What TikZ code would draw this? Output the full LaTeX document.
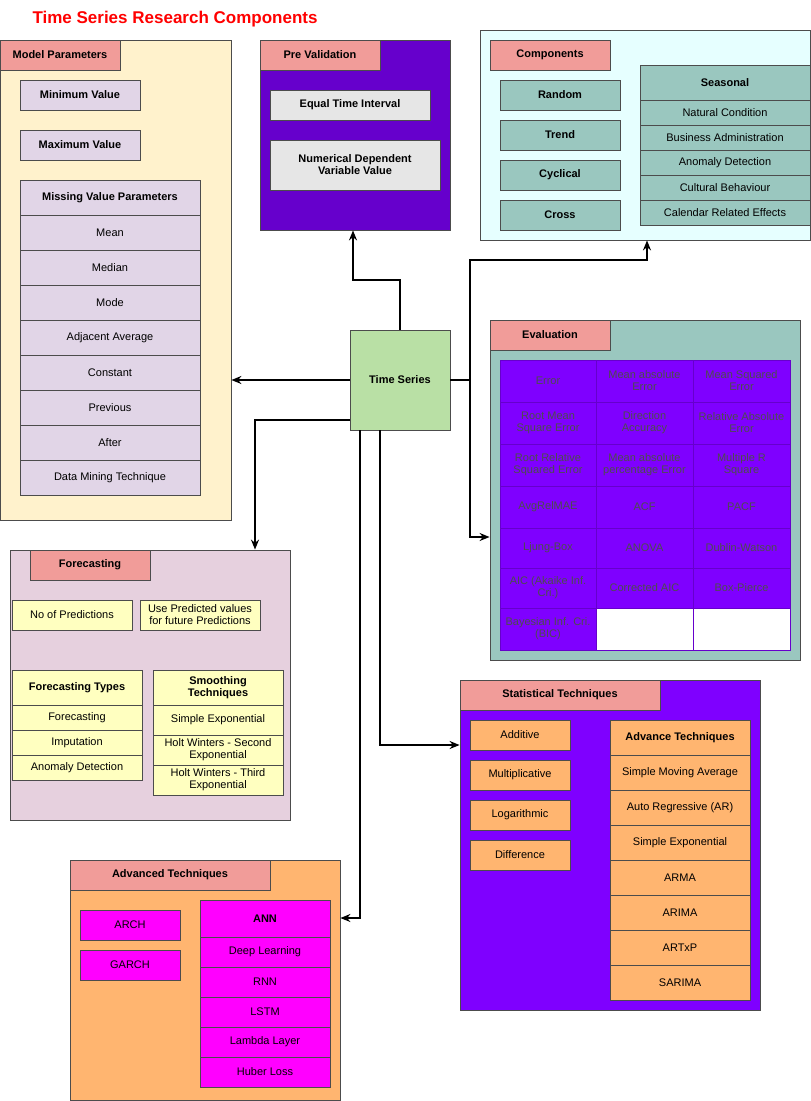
\documentclass[tikz,border=0pt]{standalone}
\usepackage{fontspec}
\setmainfont{Liberation Sans}
\usetikzlibrary{arrows.meta}
\definecolor{salmon}{HTML}{F19C99}
\definecolor{ylw}{HTML}{FFF2CC}
\definecolor{lil}{HTML}{E1D5E7}
\definecolor{pur}{HTML}{6600CC}
\definecolor{vio}{HTML}{7F00FF}
\definecolor{gry}{HTML}{E6E6E6}
\definecolor{cyn}{HTML}{E6FFFF}
\definecolor{teal2}{HTML}{9AC7BF}
\definecolor{grn}{HTML}{B9E0A5}
\definecolor{pink2}{HTML}{E6D0DE}
\definecolor{pyl}{HTML}{FFFFC0}
\definecolor{org}{HTML}{FFB570}
\definecolor{mag}{HTML}{FF00FF}
\definecolor{ttl}{HTML}{FF0000}
\definecolor{cell}{HTML}{4D4D4D}
\newcommand{\bx}[7]{\node[bxs,#6,minimum width={(#4)-(#2)},minimum height={(#5)-(#3)}] (#1) at ({((#2)+(#4))/2},{((#3)+(#5))/2}) {#7};}
\tikzset{
 bxs/.style={draw=black!70,line width=0.8pt,inner sep=0pt,align=center,font=\fontsize{11}{12}\selectfont},
 hd/.style={fill=salmon,font=\fontsize{11}{12}\selectfont\bfseries},
 bd/.style={font=\fontsize{11}{12}\selectfont\bfseries},
 arr/.style={-{Stealth[length=10pt,width=8pt]},line width=2pt,black},
}
\begin{document}
\begin{tikzpicture}[x=1pt,y=-1pt]
\useasboundingbox[fill=white] (0,0) rectangle (811,1101);
\node[anchor=west,text=ttl,font=\fontsize{17}{18}\selectfont\bfseries] (title) at (29,19) {Time Series Research Components};
% Model Parameters
\bx{mp}{0}{40}{231}{520}{fill=ylw}{}
\bx{mph}{0}{40}{120}{70}{hd}{Model Parameters}
\bx{minv}{20}{80}{140}{110}{fill=lil,bd}{Minimum Value}
\bx{maxv}{20}{130}{140}{160}{fill=lil,bd}{Maximum Value}
\bx{mvh}{20}{180}{200}{215}{fill=lil,bd}{Missing Value Parameters}
\foreach \t [count=\i from 0] in {Mean,Median,Mode,Adjacent Average,Constant,Previous,After,Data Mining Technique}{
 \bx{mv\i}{20}{215+35*\i}{200}{250+35*\i}{fill=lil}{\t}}
% Pre Validation
\bx{pv}{260}{40}{450}{230}{fill=pur}{}
\bx{pvh}{260}{40}{380}{70}{hd}{Pre Validation}
\bx{eti}{270}{90}{430}{120}{fill=gry,bd}{Equal Time Interval}
\bx{ndv}{270}{140}{440}{190}{fill=gry,bd}{Numerical Dependent\\Variable Value}
% Components
\bx{co}{480}{30}{810}{240}{fill=cyn}{}
\bx{coh}{490}{40}{610}{70}{hd}{Components}
\foreach \t [count=\i from 0] in {Random,Trend,Cyclical,Cross}{
 \bx{c\i}{500}{80+40*\i}{620}{110+40*\i}{fill=teal2,bd}{\t}}
\bx{seh}{640}{65}{810}{100}{fill=teal2,bd}{Seasonal}
\foreach \t [count=\i from 0] in {Natural Condition,Business Administration,Anomaly Detection,Cultural Behaviour,Calendar Related Effects}{
 \bx{s\i}{640}{100+25*\i}{810}{125+25*\i}{fill=teal2}{\t}}
% Time Series
\bx{ts}{350}{330}{450}{430}{fill=grn,bd}{Time Series}
% Evaluation
\bx{ev}{490}{320}{800}{660}{fill=teal2}{}
\bx{evh}{490}{320}{610}{350}{hd}{Evaluation}
\def\ry{{360,402,444,486,528,568,608,650}}
\foreach \r/\a/\b/\c [count=\i from 0] in {
 0/Error/Mean absolute\\Error/Mean Squared\\Error,
 1/Root Mean\\Square Error/Direction\\Accuracy/Relative Absolute\\Error,
 2/Root Relative\\Squared Error/Mean absolute\\percentage Error/Multiple R\\Square,
 3/AvgRelMAE/ACF/PACF,
 4/Ljung-Box/ANOVA/Dublin-Watson,
 5/AIC (Akaike Inf.\\Cri.)/Corrected AIC/Box-Pierce}{
 \pgfmathsetmacro\ya{\ry[\i]}\pgfmathsetmacro\yb{\ry[\i+1]}
 \bx{ea\i}{500}{\ya}{596}{\yb}{fill=vio,draw=vio!80!black,text=cell}{\a}
 \bx{eb\i}{596}{\ya}{693}{\yb}{fill=vio,draw=vio!80!black,text=cell}{\b}
 \bx{ec\i}{693}{\ya}{790}{\yb}{fill=vio,draw=vio!80!black,text=cell}{\c}}
\bx{ea6}{500}{608}{596}{650}{fill=vio,draw=vio!80!black,text=cell}{Bayesian Inf. Cri.\\(BIC)}
\bx{eb6}{596}{608}{693}{650}{fill=white,draw=vio!80!black}{}
\bx{ec6}{693}{608}{790}{650}{fill=white,draw=vio!80!black}{}
% Forecasting
\bx{fo}{10}{550}{290}{820}{fill=pink2}{}
\bx{foh}{30}{550}{150}{580}{hd}{Forecasting}
\bx{nop}{12}{600}{132}{630}{fill=pyl}{No of Predictions}
\bx{upv}{140}{600}{260}{630}{fill=pyl}{Use Predicted values\\for future Predictions}
\bx{fth}{12}{670}{142}{705}{fill=pyl,bd}{Forecasting Types}
\foreach \t [count=\i from 0] in {Forecasting,Imputation,Anomaly Detection}{
 \bx{ft\i}{12}{705+25*\i}{142}{730+25*\i}{fill=pyl}{\t}}
\bx{smh}{153}{670}{283}{705}{fill=pyl,bd}{Smoothing\\Techniques}
\bx{sm0}{153}{705}{283}{735}{fill=pyl}{Simple Exponential}
\bx{sm1}{153}{735}{283}{765}{fill=pyl}{Holt Winters - Second\\Exponential}
\bx{sm2}{153}{765}{283}{795}{fill=pyl}{Holt Winters - Third\\Exponential}
% Statistical Techniques
\bx{st}{460}{680}{760}{1010}{fill=vio}{}
\bx{sth}{460}{680}{660}{710}{hd}{Statistical Techniques}
\foreach \t [count=\i from 0] in {Additive,Multiplicative,Logarithmic,Difference}{
 \bx{sa\i}{470}{720+40*\i}{570}{750+40*\i}{fill=org}{\t}}
\bx{ath}{610}{720}{750}{755}{fill=org,bd}{Advance Techniques}
\foreach \t [count=\i from 0] in {Simple Moving Average,Auto Regressive (AR),Simple Exponential,ARMA,ARIMA,ARTxP,SARIMA}{
 \bx{at\i}{610}{755+35*\i}{750}{790+35*\i}{fill=org}{\t}}
% Advanced Techniques
\bx{ad}{70}{860}{340}{1100}{fill=org}{}
\bx{adh}{70}{860}{270}{890}{hd}{Advanced Techniques}
\bx{arch}{80}{910}{180}{940}{fill=mag}{ARCH}
\bx{garch}{80}{950}{180}{980}{fill=mag}{GARCH}
\bx{annh}{200}{900}{330}{937}{fill=mag,bd}{ANN}
\foreach \t [count=\i from 0] in {Deep Learning,RNN,LSTM,Lambda Layer,Huber Loss}{
 \bx{an\i}{200}{937+30*\i}{330}{967+30*\i}{fill=mag}{\t}}
% Arrows
\draw[arr] (ts.north) -- (400,280) -- (353,280) -- (pv.south -| 353,0);
\draw[arr] (ts.east) -- (470,380) -- (470,260) -- (647,260) -- (co.south -| 647,0);
\draw[arr] (ts.east) -- (470,380) -- (470,537) -- (ev.west |- 0,537);
\draw[arr] (ts.west) -- (ts.west -| mp.east);
\draw[arr] (350,420) -- (255,420) -- (fo.north -| 255,0);
\draw[arr] (380,430) -- (380,745) -- (st.west |- 0,745);
\draw[arr] (360,430) -- (360,918) -- (ad.east |- 0,918);
\end{tikzpicture}
\end{document}
